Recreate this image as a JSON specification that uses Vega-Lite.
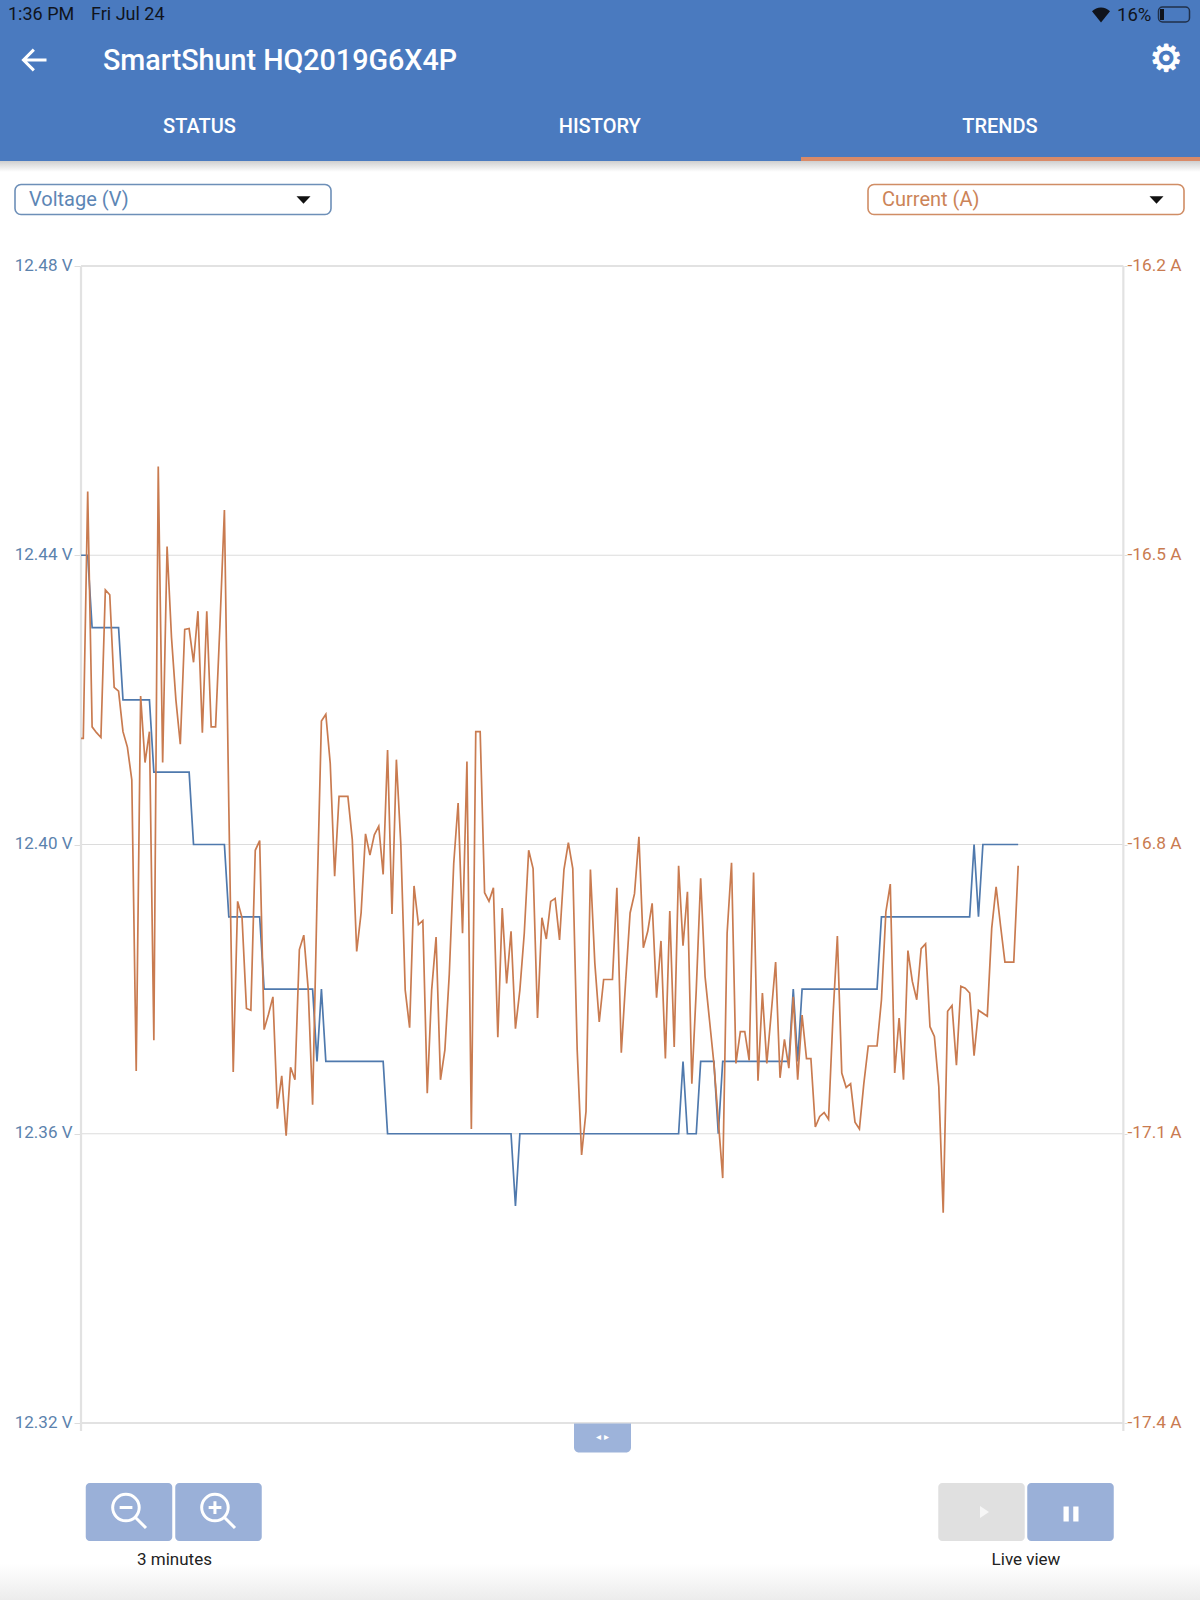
{"$schema":"https://vega.github.io/schema/vega-lite/v6.json","width":1200,"height":1600,"padding":0,"autosize":{"type":"none"},"background":"#ffffff","config":{"view":{"stroke":null},"font":"Roboto","text":{"font":"Roboto"}},
"datasets":{"ticksV":[{"v":12.44},{"v":12.40},{"v":12.36}],"edgeV":[{"v":12.48},{"v":12.32}],"frame":[{"t":-0.52},{"t":235.85}],
"series":[{"t":-0.5,"v":12.44,"a":-16.69},{"t":0,"v":12.44,"a":-16.69},{"t":1,"v":12.44,"a":-16.434},{"t":2,"v":12.43,"a":-16.678},{"t":3,"v":12.43,"a":-16.684},{"t":4,"v":12.43,"a":-16.689},{"t":5,"v":12.43,"a":-16.536},{"t":6,"v":12.43,"a":-16.541},{"t":7,"v":12.43,"a":-16.637},{"t":8,"v":12.43,"a":-16.641},{"t":9,"v":12.42,"a":-16.683},{"t":10,"v":12.42,"a":-16.699},{"t":11,"v":12.42,"a":-16.733},{"t":12,"v":12.42,"a":-17.035},{"t":13,"v":12.42,"a":-16.646},{"t":14,"v":12.42,"a":-16.715},{"t":15,"v":12.42,"a":-16.683},{"t":16,"v":12.41,"a":-17.003},{"t":17,"v":12.41,"a":-16.408},{"t":18,"v":12.41,"a":-16.715},{"t":19,"v":12.41,"a":-16.491},{"t":20,"v":12.41,"a":-16.585},{"t":21,"v":12.41,"a":-16.65},{"t":22,"v":12.41,"a":-16.696},{"t":23,"v":12.41,"a":-16.577},{"t":24,"v":12.41,"a":-16.576},{"t":25,"v":12.40,"a":-16.611},{"t":26,"v":12.40,"a":-16.558},{"t":27,"v":12.40,"a":-16.684},{"t":28,"v":12.40,"a":-16.558},{"t":29,"v":12.40,"a":-16.678},{"t":30,"v":12.40,"a":-16.678},{"t":31,"v":12.40,"a":-16.571},{"t":32,"v":12.40,"a":-16.453},{"t":33,"v":12.39,"a":-16.761},{"t":34,"v":12.39,"a":-17.036},{"t":35,"v":12.39,"a":-16.859},{"t":36,"v":12.39,"a":-16.876},{"t":37,"v":12.39,"a":-16.97},{"t":38,"v":12.39,"a":-16.972},{"t":39,"v":12.39,"a":-16.806},{"t":40,"v":12.39,"a":-16.796},{"t":41,"v":12.38,"a":-16.992},{"t":42,"v":12.38,"a":-16.976},{"t":43,"v":12.38,"a":-16.958},{"t":44,"v":12.38,"a":-17.074},{"t":45,"v":12.38,"a":-17.04},{"t":46,"v":12.38,"a":-17.102},{"t":47,"v":12.38,"a":-17.031},{"t":48,"v":12.38,"a":-17.044},{"t":49,"v":12.38,"a":-16.909},{"t":50,"v":12.38,"a":-16.894},{"t":51,"v":12.38,"a":-16.95},{"t":52,"v":12.38,"a":-17.07},{"t":53,"v":12.37,"a":-16.857},{"t":54,"v":12.38,"a":-16.672},{"t":55,"v":12.37,"a":-16.665},{"t":56,"v":12.37,"a":-16.716},{"t":57,"v":12.37,"a":-16.833},{"t":58,"v":12.37,"a":-16.75},{"t":59,"v":12.37,"a":-16.75},{"t":60,"v":12.37,"a":-16.75},{"t":61,"v":12.37,"a":-16.795},{"t":62,"v":12.37,"a":-16.911},{"t":63,"v":12.37,"a":-16.871},{"t":64,"v":12.37,"a":-16.789},{"t":65,"v":12.37,"a":-16.811},{"t":66,"v":12.37,"a":-16.79},{"t":67,"v":12.37,"a":-16.781},{"t":68,"v":12.37,"a":-16.831},{"t":69,"v":12.36,"a":-16.702},{"t":70,"v":12.36,"a":-16.872},{"t":71,"v":12.36,"a":-16.712},{"t":72,"v":12.36,"a":-16.799},{"t":73,"v":12.36,"a":-16.951},{"t":74,"v":12.36,"a":-16.99},{"t":75,"v":12.36,"a":-16.843},{"t":76,"v":12.36,"a":-16.883},{"t":77,"v":12.36,"a":-16.879},{"t":78,"v":12.36,"a":-17.058},{"t":79,"v":12.36,"a":-16.951},{"t":80,"v":12.36,"a":-16.896},{"t":81,"v":12.36,"a":-17.044},{"t":82,"v":12.36,"a":-17.013},{"t":83,"v":12.36,"a":-16.934},{"t":84,"v":12.36,"a":-16.82},{"t":85,"v":12.36,"a":-16.757},{"t":86,"v":12.36,"a":-16.892},{"t":87,"v":12.36,"a":-16.714},{"t":88,"v":12.36,"a":-17.095},{"t":89,"v":12.36,"a":-16.683},{"t":90,"v":12.36,"a":-16.683},{"t":91,"v":12.36,"a":-16.85},{"t":92,"v":12.36,"a":-16.859},{"t":93,"v":12.36,"a":-16.845},{"t":94,"v":12.36,"a":-17.0},{"t":95,"v":12.36,"a":-16.866},{"t":96,"v":12.36,"a":-16.944},{"t":97,"v":12.36,"a":-16.89},{"t":98,"v":12.35,"a":-16.991},{"t":99,"v":12.36,"a":-16.951},{"t":100,"v":12.36,"a":-16.892},{"t":101,"v":12.36,"a":-16.806},{"t":102,"v":12.36,"a":-16.825},{"t":103,"v":12.36,"a":-16.98},{"t":104,"v":12.36,"a":-16.876},{"t":105,"v":12.36,"a":-16.898},{"t":106,"v":12.36,"a":-16.859},{"t":107,"v":12.36,"a":-16.856},{"t":108,"v":12.36,"a":-16.899},{"t":109,"v":12.36,"a":-16.826},{"t":110,"v":12.36,"a":-16.798},{"t":111,"v":12.36,"a":-16.825},{"t":112,"v":12.36,"a":-17.013},{"t":113,"v":12.36,"a":-17.122},{"t":114,"v":12.36,"a":-17.077},{"t":115,"v":12.36,"a":-16.826},{"t":116,"v":12.36,"a":-16.923},{"t":117,"v":12.36,"a":-16.984},{"t":118,"v":12.36,"a":-16.94},{"t":119,"v":12.36,"a":-16.94},{"t":120,"v":12.36,"a":-16.94},{"t":121,"v":12.36,"a":-16.845},{"t":122,"v":12.36,"a":-17.016},{"t":123,"v":12.36,"a":-16.941},{"t":124,"v":12.36,"a":-16.871},{"t":125,"v":12.36,"a":-16.851},{"t":126,"v":12.36,"a":-16.792},{"t":127,"v":12.36,"a":-16.907},{"t":128,"v":12.36,"a":-16.89},{"t":129,"v":12.36,"a":-16.861},{"t":130,"v":12.36,"a":-16.959},{"t":131,"v":12.36,"a":-16.9},{"t":132,"v":12.36,"a":-17.022},{"t":133,"v":12.36,"a":-16.869},{"t":134,"v":12.36,"a":-17.01},{"t":135,"v":12.36,"a":-16.822},{"t":136,"v":12.37,"a":-16.905},{"t":137,"v":12.36,"a":-16.849},{"t":138,"v":12.36,"a":-17.048},{"t":139,"v":12.36,"a":-16.951},{"t":140,"v":12.37,"a":-16.835},{"t":141,"v":12.37,"a":-16.937},{"t":142,"v":12.37,"a":-16.982},{"t":143,"v":12.37,"a":-17.027},{"t":144,"v":12.36,"a":-17.086},{"t":145,"v":12.37,"a":-17.146},{"t":146,"v":12.37,"a":-16.892},{"t":147,"v":12.37,"a":-16.819},{"t":148,"v":12.37,"a":-17.027},{"t":149,"v":12.37,"a":-16.994},{"t":150,"v":12.37,"a":-16.994},{"t":151,"v":12.37,"a":-17.024},{"t":152,"v":12.37,"a":-16.829},{"t":153,"v":12.37,"a":-17.045},{"t":154,"v":12.37,"a":-16.954},{"t":155,"v":12.37,"a":-17.027},{"t":156,"v":12.37,"a":-16.975},{"t":157,"v":12.37,"a":-16.922},{"t":158,"v":12.37,"a":-17.042},{"t":159,"v":12.37,"a":-17.002},{"t":160,"v":12.37,"a":-17.032},{"t":161,"v":12.38,"a":-16.958},{"t":162,"v":12.37,"a":-17.044},{"t":163,"v":12.38,"a":-16.977},{"t":164,"v":12.38,"a":-17.022},{"t":165,"v":12.38,"a":-17.022},{"t":166,"v":12.38,"a":-17.093},{"t":167,"v":12.38,"a":-17.082},{"t":168,"v":12.38,"a":-17.078},{"t":169,"v":12.38,"a":-17.085},{"t":170,"v":12.38,"a":-16.979},{"t":171,"v":12.38,"a":-16.895},{"t":172,"v":12.38,"a":-17.037},{"t":173,"v":12.38,"a":-17.052},{"t":174,"v":12.38,"a":-17.048},{"t":175,"v":12.38,"a":-17.088},{"t":176,"v":12.38,"a":-17.095},{"t":177,"v":12.38,"a":-17.048},{"t":178,"v":12.38,"a":-17.009},{"t":179,"v":12.38,"a":-17.009},{"t":180,"v":12.38,"a":-17.009},{"t":181,"v":12.39,"a":-16.961},{"t":182,"v":12.39,"a":-16.87},{"t":183,"v":12.39,"a":-16.841},{"t":184,"v":12.39,"a":-17.037},{"t":185,"v":12.39,"a":-16.98},{"t":186,"v":12.39,"a":-17.044},{"t":187,"v":12.39,"a":-16.91},{"t":188,"v":12.39,"a":-16.942},{"t":189,"v":12.39,"a":-16.961},{"t":190,"v":12.39,"a":-16.908},{"t":191,"v":12.39,"a":-16.903},{"t":192,"v":12.39,"a":-16.989},{"t":193,"v":12.39,"a":-16.999},{"t":194,"v":12.39,"a":-17.051},{"t":195,"v":12.39,"a":-17.182},{"t":196,"v":12.39,"a":-16.973},{"t":197,"v":12.39,"a":-16.967},{"t":198,"v":12.39,"a":-17.029},{"t":199,"v":12.39,"a":-16.947},{"t":200,"v":12.39,"a":-16.949},{"t":201,"v":12.39,"a":-16.954},{"t":202,"v":12.40,"a":-17.019},{"t":203,"v":12.39,"a":-16.972},{"t":204,"v":12.40,"a":-16.975},{"t":205,"v":12.40,"a":-16.978},{"t":206,"v":12.40,"a":-16.887},{"t":207,"v":12.40,"a":-16.844},{"t":208,"v":12.40,"a":-16.884},{"t":209,"v":12.40,"a":-16.922},{"t":210,"v":12.40,"a":-16.922},{"t":211,"v":12.40,"a":-16.922},{"t":212,"v":12.40,"a":-16.822}]},
"resolve":{"scale":{"x":"independent","y":"independent","color":"independent","stroke":"independent"},"axis":{"y":"independent","x":"independent"}},
"layer":[
{"data":{"values":[{"name":"app bar"}]},"mark":{"type":"rect","width":1200,"height":161,"color":"#4a7abf"},"encoding":{"x":{"field":"name","type":"nominal","axis":null,"scale":{"type":"point","padding":0,"range":[600,600]}},"y":{"field":"name","type":"nominal","axis":null,"scale":{"type":"point","padding":0,"range":[80.5,80.5]}}}},
{"data":{"values":[{"name":"TRENDS"}]},"mark":{"type":"rect","width":399,"height":4,"color":"#d98a68"},"encoding":{"x":{"field":"name","type":"nominal","axis":null,"scale":{"type":"point","padding":0,"range":[1000.5,1000.5]}},"y":{"field":"name","type":"nominal","axis":null,"scale":{"type":"point","padding":0,"range":[159,159]}}}},
{"data":{"values":[{"name":"shadow"}]},"mark":{"type":"rect","width":1200,"height":11,"fill":{"gradient":"linear","x1":0,"y1":0,"x2":0,"y2":1,"stops":[{"offset":0,"color":"#cfcfcf"},{"offset":1,"color":"#ffffff"}]}},"encoding":{"x":{"field":"name","type":"nominal","axis":null,"scale":{"type":"point","padding":0,"range":[600,600]}},"y":{"field":"name","type":"nominal","axis":null,"scale":{"type":"point","padding":0,"range":[166.5,166.5]}}}},
{"data":{"values":[{"name":"fade"}]},"mark":{"type":"rect","width":1200,"height":36,"fill":{"gradient":"linear","x1":0,"y1":0,"x2":0,"y2":1,"stops":[{"offset":0,"color":"#ffffff"},{"offset":1,"color":"#ececec"}]}},"encoding":{"x":{"field":"name","type":"nominal","axis":null,"scale":{"type":"point","padding":0,"range":[600,600]}},"y":{"field":"name","type":"nominal","axis":null,"scale":{"type":"point","padding":0,"range":[1582,1582]}}}},
{"data":{"values":[{"name":"1:36 PM"},{"name":"Fri Jul 24"}]},"mark":{"type":"text","align":"left","baseline":"middle","fontSize":18,"color":"#10141c"},"encoding":{"text":{"field":"name"},"x":{"field":"name","type":"nominal","axis":null,"scale":{"type":"point","padding":0,"domain":["1:36 PM","Fri Jul 24"],"range":[8,91]}},"y":{"field":"name","type":"nominal","axis":null,"scale":{"type":"point","padding":0,"range":[14.5,14.5]}}}},
{"data":{"values":[{"name":"16%"}]},"mark":{"type":"text","align":"left","baseline":"middle","fontSize":18.5,"color":"#10141c"},"encoding":{"text":{"field":"name"},"x":{"field":"name","type":"nominal","axis":null,"scale":{"type":"point","padding":0,"range":[1117,1117]}},"y":{"field":"name","type":"nominal","axis":null,"scale":{"type":"point","padding":0,"range":[14.5,14.5]}}}},
{"data":{"values":[{"name":"wifi"}]},"mark":{"type":"point","shape":"M-1,-0.35 A1.4,1.4 0 0 1 1,-0.35 L0,0.9 Z","size":324,"filled":true,"opacity":1,"color":"#10141c"},"encoding":{"x":{"field":"name","type":"nominal","axis":null,"scale":{"type":"point","padding":0,"range":[1101,1101]}},"y":{"field":"name","type":"nominal","axis":null,"scale":{"type":"point","padding":0,"range":[14.5,14.5]}}}},
{"data":{"values":[{"name":"battery"}]},"mark":{"type":"rect","width":31,"height":15,"cornerRadius":4,"fillOpacity":0,"stroke":"#20304a","strokeWidth":1.5},"encoding":{"x":{"field":"name","type":"nominal","axis":null,"scale":{"type":"point","padding":0,"range":[1174,1174]}},"y":{"field":"name","type":"nominal","axis":null,"scale":{"type":"point","padding":0,"range":[14.5,14.5]}}}},
{"data":{"values":[{"name":"battery level"}]},"mark":{"type":"rect","width":4,"height":11,"color":"#10141c"},"encoding":{"x":{"field":"name","type":"nominal","axis":null,"scale":{"type":"point","padding":0,"range":[1162,1162]}},"y":{"field":"name","type":"nominal","axis":null,"scale":{"type":"point","padding":0,"range":[14.5,14.5]}}}},
{"data":{"values":[{"name":"SmartShunt HQ2019G6X4P"}]},"mark":{"type":"text","align":"left","baseline":"middle","fontSize":28.7,"fontWeight":500,"color":"#ffffff"},"encoding":{"text":{"field":"name"},"x":{"field":"name","type":"nominal","axis":null,"scale":{"type":"point","padding":0,"range":[103,103]}},"y":{"field":"name","type":"nominal","axis":null,"scale":{"type":"point","padding":0,"range":[61,61]}}}},
{"data":{"values":[{"name":"back"}]},"mark":{"type":"point","shape":"M1,0 L-1,0 M-0.1,-0.9 L-1,0 L-0.1,0.9","size":529,"filled":false,"opacity":1,"strokeWidth":3,"color":"#ffffff"},"encoding":{"x":{"field":"name","type":"nominal","axis":null,"scale":{"type":"point","padding":0,"range":[35,35]}},"y":{"field":"name","type":"nominal","axis":null,"scale":{"type":"point","padding":0,"range":[60,60]}}}},
{"data":{"values":[{"name":"⚙"}]},"mark":{"type":"text","font":"DejaVu Sans","align":"center","baseline":"middle","fontSize":37,"fontWeight":"bold","stroke":"#ffffff","strokeWidth":1,"color":"#ffffff"},"encoding":{"text":{"field":"name"},"x":{"field":"name","type":"nominal","axis":null,"scale":{"type":"point","padding":0,"range":[1166,1166]}},"y":{"field":"name","type":"nominal","axis":null,"scale":{"type":"point","padding":0,"range":[60,60]}}}},
{"data":{"values":[{"name":"STATUS"},{"name":"HISTORY"},{"name":"TRENDS"}]},"mark":{"type":"text","align":"center","baseline":"middle","fontSize":20,"fontWeight":500,"color":"#ffffff"},"encoding":{"text":{"field":"name"},"x":{"field":"name","type":"nominal","axis":null,"scale":{"type":"point","padding":0,"domain":["STATUS","HISTORY","TRENDS"],"range":[199.5,1000]}},"y":{"field":"name","type":"nominal","axis":null,"scale":{"type":"point","padding":0,"range":[127,127]}}}},
{"data":{"values":[{"name":"Voltage (V)"},{"name":"Current (A)"}]},"mark":{"type":"rect","width":316,"height":30,"cornerRadius":6,"fillOpacity":0,"strokeWidth":1.6},"encoding":{"stroke":{"field":"name","type":"nominal","legend":null,"scale":{"domain":["Voltage (V)","Current (A)"],"range":["#6d8fb8","#d08d65"]}},"x":{"field":"name","type":"nominal","axis":null,"scale":{"type":"point","padding":0,"domain":["Voltage (V)","Current (A)"],"range":[173,1026]}},"y":{"field":"name","type":"nominal","axis":null,"scale":{"type":"point","padding":0,"range":[199.5,199.5]}}}},
{"data":{"values":[{"name":"Voltage (V)"},{"name":"Current (A)"}]},"mark":{"type":"text","align":"left","baseline":"middle","dx":-144,"fontSize":20},"encoding":{"text":{"field":"name"},"color":{"field":"name","type":"nominal","legend":null,"scale":{"domain":["Voltage (V)","Current (A)"],"range":["#5d86b5","#cc8458"]}},"x":{"field":"name","type":"nominal","axis":null,"scale":{"type":"point","padding":0,"domain":["Voltage (V)","Current (A)"],"range":[173,1026]}},"y":{"field":"name","type":"nominal","axis":null,"scale":{"type":"point","padding":0,"range":[199.5,199.5]}}}},
{"data":{"values":[{"name":"voltage menu"},{"name":"current menu"}]},"mark":{"type":"point","shape":"M-1,-0.55 L1,-0.55 L0,0.55 Z","size":196,"filled":true,"opacity":1,"color":"#111111"},"encoding":{"x":{"field":"name","type":"nominal","axis":null,"scale":{"type":"point","padding":0,"domain":["voltage menu","current menu"],"range":[303.5,1156.5]}},"y":{"field":"name","type":"nominal","axis":null,"scale":{"type":"point","padding":0,"range":[200,200]}}}},
{"data":{"name":"ticksV"},"mark":{"type":"rule","color":"#dcdcdc","strokeWidth":1.2},"encoding":{"y":{"field":"v","type":"quantitative","axis":null,"scale":{"domain":[12.32,12.48],"range":[1423,266]}},"x":{"datum":-0.52,"type":"quantitative","axis":null,"scale":{"domain":[-0.52,236],"range":[81,1124]}},"x2":{"datum":235.85}}},
{"data":{"name":"edgeV"},"mark":{"type":"rule","color":"#e2e2e2","strokeWidth":2},"encoding":{"y":{"field":"v","type":"quantitative","axis":null,"scale":{"domain":[12.32,12.48],"range":[1423,266]}},"x":{"datum":-0.52,"type":"quantitative","axis":null,"scale":{"domain":[-0.52,236],"range":[81,1124]}},"x2":{"datum":235.85}}},
{"data":{"name":"frame"},"mark":{"type":"rule","color":"#e2e2e2","strokeWidth":2.2},"encoding":{"x":{"field":"t","type":"quantitative","axis":null,"scale":{"domain":[-0.52,236],"range":[81,1124]}},"y":{"datum":12.48,"type":"quantitative","axis":null,"scale":{"domain":[12.32,12.48],"range":[1423,266]}},"y2":{"datum":12.3189}}},
{"data":{"name":"series"},"mark":{"type":"line","color":"#4f79ad","strokeWidth":1.7,"interpolate":"linear"},"encoding":{"x":{"field":"t","type":"quantitative","axis":null,"scale":{"domain":[-0.52,236],"range":[81,1124]}},"y":{"field":"v","type":"quantitative","scale":{"domain":[12.32,12.48],"range":[1423,266]},"axis":{"orient":"left","offset":-81,"title":null,"grid":false,"domain":false,"values":[12.32,12.36,12.4,12.44,12.48],"tickColor":"#dcdcdc","tickSize":7,"labelPadding":2,"labelOffset":-1,"labelFont":"Roboto","labelFontSize":17,"labelColor":"#5b82ad","labelExpr":"format(datum.value,'.2f') + ' V'"}}}},
{"data":{"name":"series"},"mark":{"type":"line","color":"#c97b50","strokeWidth":1.7,"interpolate":"linear"},"encoding":{"x":{"field":"t","type":"quantitative","axis":null,"scale":{"domain":[-0.52,236],"range":[81,1124]}},"y":{"field":"a","type":"quantitative","scale":{"domain":[-17.4,-16.2],"range":[1423,266]},"axis":{"orient":"right","offset":-76,"title":null,"grid":false,"domain":false,"values":[-17.4,-17.1,-16.8,-16.5,-16.2],"tickColor":"#dcdcdc","tickSize":3,"labelPadding":0,"labelOffset":-1,"labelFont":"Roboto","labelFontSize":17.3,"labelColor":"#c97b50","labelExpr":"'-' + format(abs(datum.value),'.1f') + ' A'"}}}},
{"data":{"values":[{"name":"range handle"}]},"mark":{"type":"rect","width":57,"height":29,"cornerRadiusBottomLeft":5,"cornerRadiusBottomRight":5,"color":"#9db3da"},"encoding":{"x":{"field":"name","type":"nominal","axis":null,"scale":{"type":"point","padding":0,"range":[602.5,602.5]}},"y":{"field":"name","type":"nominal","axis":null,"scale":{"type":"point","padding":0,"range":[1438,1438]}}}},
{"data":{"values":[{"name":"◂  ▸"}]},"mark":{"type":"text","font":"DejaVu Sans","align":"center","baseline":"middle","fontSize":10,"color":"#ffffff"},"encoding":{"text":{"field":"name"},"x":{"field":"name","type":"nominal","axis":null,"scale":{"type":"point","padding":0,"range":[602.5,602.5]}},"y":{"field":"name","type":"nominal","axis":null,"scale":{"type":"point","padding":0,"range":[1437,1437]}}}},
{"data":{"values":[{"name":"zoom out"},{"name":"zoom in"}]},"mark":{"type":"rect","width":86.5,"height":58,"cornerRadius":4,"color":"#9ab0d8"},"encoding":{"x":{"field":"name","type":"nominal","axis":null,"scale":{"type":"point","padding":0,"domain":["zoom out","zoom in"],"range":[129,218.5]}},"y":{"field":"name","type":"nominal","axis":null,"scale":{"type":"point","padding":0,"range":[1512,1512]}}}},
{"data":{"values":[{"name":"play"}]},"mark":{"type":"rect","width":86.5,"height":58,"cornerRadius":4,"color":"#e0e0e0"},"encoding":{"x":{"field":"name","type":"nominal","axis":null,"scale":{"type":"point","padding":0,"range":[981.5,981.5]}},"y":{"field":"name","type":"nominal","axis":null,"scale":{"type":"point","padding":0,"range":[1512,1512]}}}},
{"data":{"values":[{"name":"pause"}]},"mark":{"type":"rect","width":86.5,"height":58,"cornerRadius":4,"color":"#9ab0d8"},"encoding":{"x":{"field":"name","type":"nominal","axis":null,"scale":{"type":"point","padding":0,"range":[1070.5,1070.5]}},"y":{"field":"name","type":"nominal","axis":null,"scale":{"type":"point","padding":0,"range":[1512,1512]}}}},
{"data":{"values":[{"name":"zoom out"}]},"mark":{"type":"point","shape":"M0.6,-0.2 A0.78,0.78 0 1 1 -0.96,-0.2 A0.78,0.78 0 1 1 0.6,-0.2 M0.38,0.38 L1,1 M-0.55,-0.2 L0.2,-0.2","size":1156,"filled":false,"opacity":1,"strokeWidth":3,"color":"#ffffff"},"encoding":{"x":{"field":"name","type":"nominal","axis":null,"scale":{"type":"point","padding":0,"range":[129,129]}},"y":{"field":"name","type":"nominal","axis":null,"scale":{"type":"point","padding":0,"range":[1511,1511]}}}},
{"data":{"values":[{"name":"zoom in"}]},"mark":{"type":"point","shape":"M0.6,-0.2 A0.78,0.78 0 1 1 -0.96,-0.2 A0.78,0.78 0 1 1 0.6,-0.2 M0.38,0.38 L1,1 M-0.55,-0.2 L0.2,-0.2 M-0.18,-0.57 L-0.18,0.17","size":1156,"filled":false,"opacity":1,"strokeWidth":3,"color":"#ffffff"},"encoding":{"x":{"field":"name","type":"nominal","axis":null,"scale":{"type":"point","padding":0,"range":[218,218]}},"y":{"field":"name","type":"nominal","axis":null,"scale":{"type":"point","padding":0,"range":[1511,1511]}}}},
{"data":{"values":[{"name":"play icon"}]},"mark":{"type":"point","shape":"M-0.5,-1 L1,0 L-0.5,1 Z","size":144,"filled":true,"opacity":1,"color":"#f6f6f6"},"encoding":{"x":{"field":"name","type":"nominal","axis":null,"scale":{"type":"point","padding":0,"range":[983,983]}},"y":{"field":"name","type":"nominal","axis":null,"scale":{"type":"point","padding":0,"range":[1512,1512]}}}},
{"data":{"values":[{"name":"pause icon"}]},"mark":{"type":"point","shape":"M-1,-1 L-0.3,-1 L-0.3,1 L-1,1 Z M0.3,-1 L1,-1 L1,1 L0.3,1 Z","size":225,"filled":true,"opacity":1,"color":"#ffffff"},"encoding":{"x":{"field":"name","type":"nominal","axis":null,"scale":{"type":"point","padding":0,"range":[1071,1071]}},"y":{"field":"name","type":"nominal","axis":null,"scale":{"type":"point","padding":0,"range":[1514,1514]}}}},
{"data":{"values":[{"name":"3 minutes"},{"name":"Live view"}]},"mark":{"type":"text","align":"center","baseline":"middle","fontSize":17,"color":"#222222"},"encoding":{"text":{"field":"name"},"x":{"field":"name","type":"nominal","axis":null,"scale":{"type":"point","padding":0,"domain":["3 minutes","Live view"],"range":[174.5,1026]}},"y":{"field":"name","type":"nominal","axis":null,"scale":{"type":"point","padding":0,"range":[1560,1560]}}}}
]}
